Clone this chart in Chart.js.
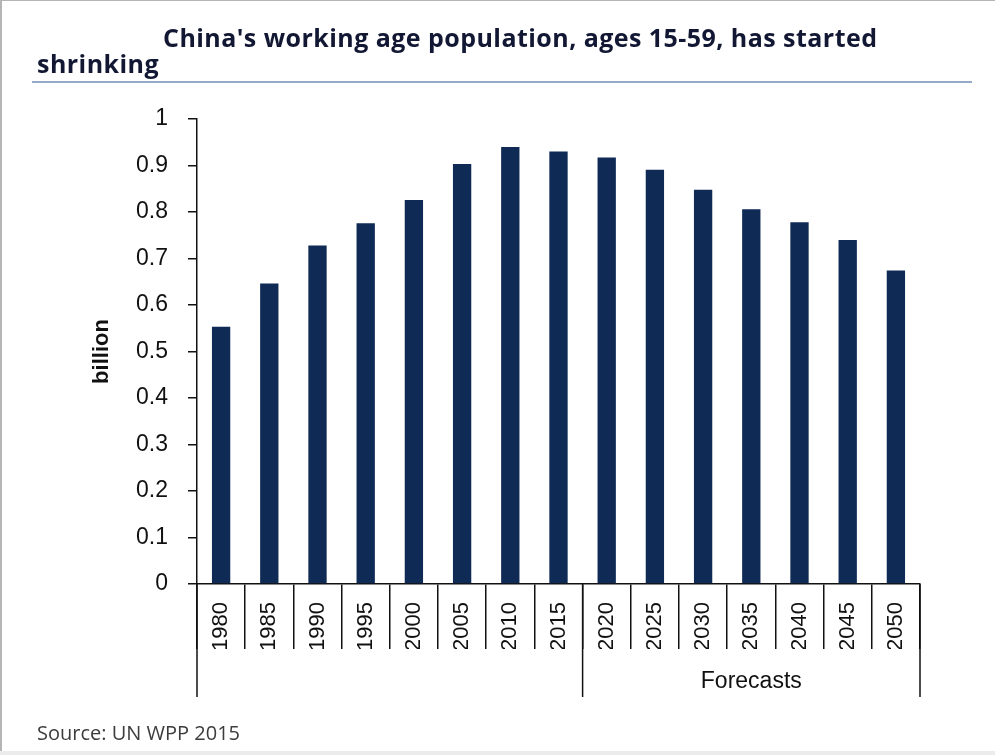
<!DOCTYPE html>
<html>
<head>
<meta charset="utf-8">
<script src="https://cdn.jsdelivr.net/npm/chart.js@4"></script>
<style>
  body { margin: 0; background: #fff; }
  #wrap { position: relative; width: 995px; height: 755px; overflow: hidden; background: #fff; }
  #wrap canvas { position: absolute; left: 0; top: 0; }
  .frame-top { position: absolute; left: 0; top: 0; width: 995px; height: 1px; background: #b5b5b5; }
  .frame-left { position: absolute; left: 0; top: 0; width: 2px; height: 755px; background: #b5b5b5; }
  .frame-bottom { position: absolute; left: 0; top: 751px; width: 995px; height: 4px; background: #ececec; }
  .title { position: absolute; font-family: "Open Sans", Lato, sans-serif; font-weight: bold; font-size: 25px; letter-spacing: 0.45px; line-height: 26px; color: #121833; white-space: nowrap; }
  .rule { position: absolute; left: 32px; top: 81px; width: 940px; height: 2px; background: #95a9c9; }
  .source { position: absolute; left: 37px; top: 723px; font-family: "Open Sans", sans-serif; font-size: 20px; line-height: 19px; color: #3c3c3c; white-space: nowrap; }
</style>
</head>
<body>
<div id="wrap">
  <canvas id="grafico" width="995" height="755"></canvas>
  <div class="title" style="left:163px; top:24px;">China's working age population, ages 15-59, has started</div>
  <div class="title" style="left:37px; top:50px;">shrinking</div>
  <div class="rule"></div>
  <div class="source">Source: UN WPP 2015</div>
  <div class="frame-top"></div>
  <div class="frame-left"></div>
  <div class="frame-bottom"></div>
</div>
<script>
// anos e populacao em idade ativa (bilhoes)
const anos = ['1980', '1985', '1990', '1995', '2000', '2005', '2010', '2015',
              '2020', '2025', '2030', '2035', '2040', '2045', '2050'];
const populacao = [0.553, 0.646, 0.728, 0.776, 0.826, 0.903, 0.940, 0.930,
                   0.917, 0.891, 0.848, 0.806, 0.778, 0.740, 0.674];
const inicioPrevisao = '2020';
const rotuloPrevisao = 'Forecasts';
const eixoY = { min: 0, max: 1, passo: 0.1 };

// linhas de agrupamento abaixo do eixo x
const grupos = {
  id: 'grupos',
  afterDraw(chart) {
    const { ctx, chartArea } = chart;
    const x = chart.scales.x;
    const meia = (x.getPixelForValue(1) - x.getPixelForValue(0)) / 2;
    const iPrev = anos.indexOf(inicioPrevisao);
    const esq = x.getPixelForValue(0) - meia;
    const meio = x.getPixelForValue(iPrev) - meia;
    const dir = x.getPixelForValue(anos.length - 1) + meia;
    const y0 = chartArea.bottom;
    const y1 = y0 + 113;

    ctx.save();
    ctx.strokeStyle = '#111';
    ctx.lineWidth = 1.5;
    [esq, meio, dir].forEach(px => {
      ctx.beginPath();
      ctx.moveTo(px, y0);
      ctx.lineTo(px, y1);
      ctx.stroke();
    });
    ctx.fillStyle = '#111';
    ctx.font = '23px "Liberation Sans", Arial, sans-serif';
    ctx.textAlign = 'center';
    ctx.textBaseline = 'middle';
    ctx.fillText(rotuloPrevisao, (meio + dir) / 2, y0 + 98);
    ctx.restore();
  }
};

const ctx = document.getElementById('grafico').getContext('2d');
new Chart(ctx, {
  type: 'bar',
  data: {
    labels: anos,
    datasets: [{
      data: populacao,
      backgroundColor: '#0e2a55',
      borderColor: '#0e2a55',
      borderWidth: 0,
      categoryPercentage: 1,
      barPercentage: 0.38
    }]
  },
  options: {
    responsive: false,
    animation: false,
    devicePixelRatio: 1,
    layout: {
      padding: { top: 119, right: 75, bottom: 106, left: 85 }
    },
    plugins: {
      legend: { display: false },
      tooltip: { enabled: false }
    },
    scales: {
      x: {
        grid: {
          offset: true,
          drawOnChartArea: false,
          drawTicks: true,
          tickLength: 65,
          color: '#111',
          lineWidth: 1.5
        },
        border: { display: true, color: '#111', width: 1.5 },
        ticks: {
          minRotation: 90,
          maxRotation: 90,
          padding: -47,
          color: '#111',
          font: { family: '"Liberation Sans", Arial, sans-serif', size: 22 }
        },
        afterFit: scale => { scale.height = 65; }
      },
      y: {
        min: eixoY.min,
        max: eixoY.max,
        grid: {
          drawOnChartArea: false,
          drawTicks: true,
          tickLength: 9,
          color: '#111',
          lineWidth: 1.5
        },
        border: { display: true, color: '#111', width: 1.5 },
        ticks: {
          stepSize: eixoY.passo,
          padding: 20,
          color: '#111',
          font: { family: '"Liberation Sans", Arial, sans-serif', size: 23 },
          callback: value => String(+value.toFixed(1))
        },
        title: {
          display: true,
          text: 'billion',
          color: '#111',
          padding: { top: 4, bottom: 4 },
          font: { family: '"Liberation Sans", Arial, sans-serif', size: 22, weight: 'bold' }
        },
        afterFit: scale => { scale.width = 112; }
      }
    }
  },
  plugins: [grupos]
});
</script>
</body>
</html>
